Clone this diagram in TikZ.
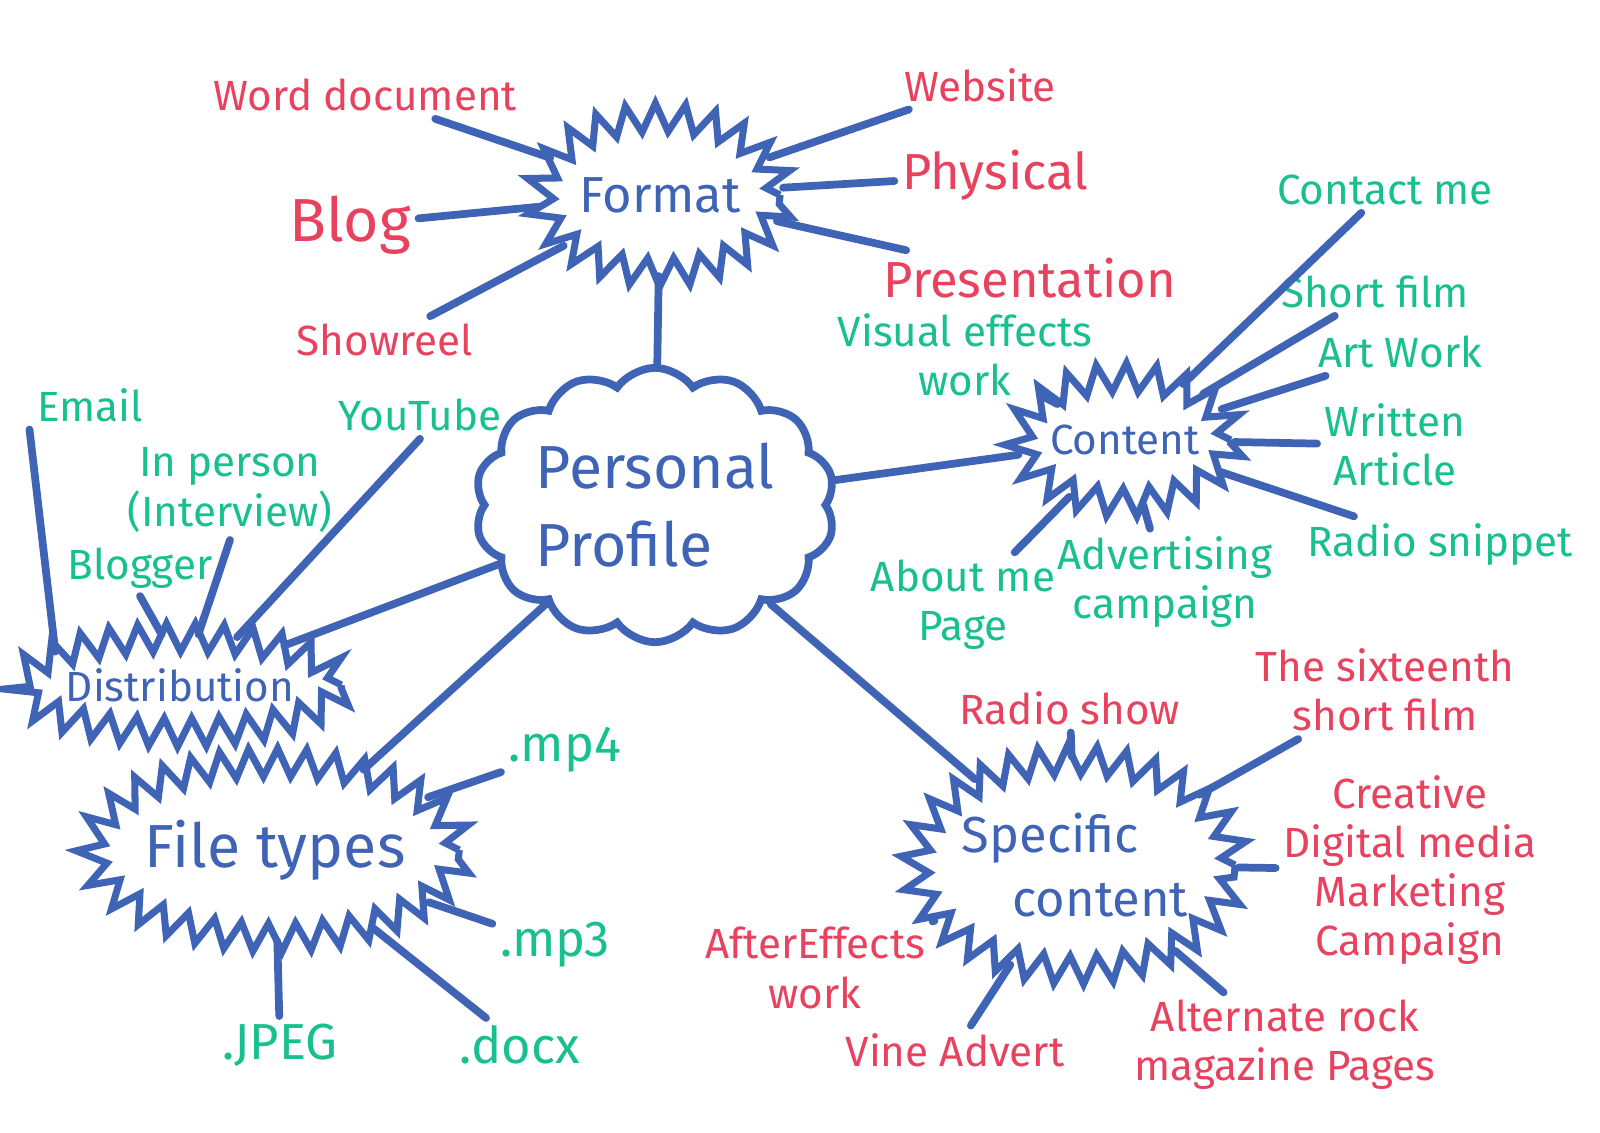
\documentclass[tikz,border=0pt]{standalone}
\usepackage{fontspec}
\setmainfont{Fira Sans}
\usetikzlibrary{shapes.geometric,shapes.symbols,decorations.pathmorphing}
\definecolor{bl}{HTML}{3F63B5}
\definecolor{rd}{HTML}{E8425E}
\definecolor{gr}{HTML}{17C08E}
\begin{document}
\begin{tikzpicture}[x=0.01cm,y=-0.01cm,
  line/.style={bl,line width=2.2pt,line cap=round},
  spiky/.style={ellipse,draw=bl,line width=2pt,inner sep=0pt,text=bl,
    decorate,decoration={zigzag,segment length=8pt,amplitude=4pt},font=\Large},
  red/.style={text=rd,font=\large,align=center,inner sep=2pt},
  grn/.style={text=gr,font=\large,align=center,inner sep=2pt}]
\useasboundingbox (0,0) rectangle (1600,1132);
\fill[white] (0,0) rectangle (1600,1132);
% central nodes
\node[cloud,cloud puffs=14,cloud puff arc=110,aspect=1.4,draw=bl,line width=2.2pt,
  minimum width=3.6cm,minimum height=2.6cm,text=bl,font=\LARGE,align=left,inner sep=0pt]
  (pp) at (655,505) {Personal\\Profile};
\node[spiky,minimum width=2.4cm,minimum height=1.55cm] (fmt) at (660,195) {Format};
\node[spiky,minimum width=2.0cm,minimum height=1.25cm,font=\large] (cont) at (1125,440) {Content};
\node[spiky,minimum width=2.8cm,minimum height=0.95cm,font=\large] (dist) at (180,685) {Distribution};
\node[spiky,minimum width=3.6cm,minimum height=1.75cm,font=\LARGE] (ft) at (275,850) {File types};
\node[spiky,minimum width=3.2cm,minimum height=2.1cm,align=left] (spec) at (1075,865) {Specific\\\quad content};
% labels
\node[red] (wd) at (365,95) {Word document};
\node[red] (web) at (980,85) {Website};
\node[red,font=\LARGE] (blog) at (350,225) {Blog};
\node[red,font=\Large] (phys) at (995,175) {Physical};
\node[red] (show) at (385,340) {Showreel};
\node[red,font=\Large] (pres) at (1030,278) {Presentation};
\node[red] (radio) at (1070,708) {Radio show};
\node[red] (six) at (1385,690) {The sixteenth\\short film};
\node[red] (crea) at (1410,870) {Creative\\Digital media\\Marketing\\Campaign};
\node[red] (ae) at (815,968) {AfterEffects\\work};
\node[red] (vine) at (955,1050) {Vine Advert};
\node[red] (alt) at (1285,1045) {Alternate rock\\magazine Pages};
\node[grn] (contact) at (1385,190) {Contact me};
\node[grn] (short) at (1375,292) {Short film};
\node[grn] (art) at (1400,352) {Art Work};
\node[grn] (writ) at (1395,445) {Written\\Article};
\node[grn] (rsnip) at (1440,545) {Radio snippet};
\node[grn] (vfx) at (965,355) {Visual effects\\work};
\node[grn] (about) at (963,605) {About me\\Page};
\node[grn] (adv) at (1165,582) {Advertising\\campaign};
\node[grn] (email) at (90,405) {Email};
\node[grn] (inp) at (230,490) {In person\\(Interview)};
\node[grn] (blogger) at (140,568) {Blogger};
\node[grn] (yt) at (420,415) {YouTube};
\node[grn,font=\Large] (mp4) at (565,750) {.mp4};
\node[grn,font=\Large] (mp3) at (555,945) {.mp3};
\node[grn,font=\Large] (jpeg) at (280,1045) {.JPEG};
\node[grn,font=\Large] (docx) at (520,1045) {.docx};
% connectors
\draw[line] (fmt) -- (pp);
\draw[line] (pp) -- (cont);
\draw[line] (pp) -- (dist);
\draw[line] (pp) -- (ft);
\draw[line] (pp) -- (spec);
\foreach \l in {wd,web,blog,phys,show,pres} \draw[line] (fmt) -- (\l);
\foreach \l in {contact,short,art,writ,rsnip,vfx,about,adv} \draw[line] (cont) -- (\l);
\draw[line] (dist.165) -- (email.south west);
\draw[line] (dist.110) -- (blogger.south);
\draw[line] (dist.70) -- (inp.south);
\draw[line] (dist.40) -- (yt.south);
\foreach \l in {mp4,mp3,jpeg,docx} \draw[line] (ft) -- (\l);
\foreach \l in {radio,six,crea,ae,vine,alt} \draw[line] (spec) -- (\l);
\end{tikzpicture}
\end{document}
